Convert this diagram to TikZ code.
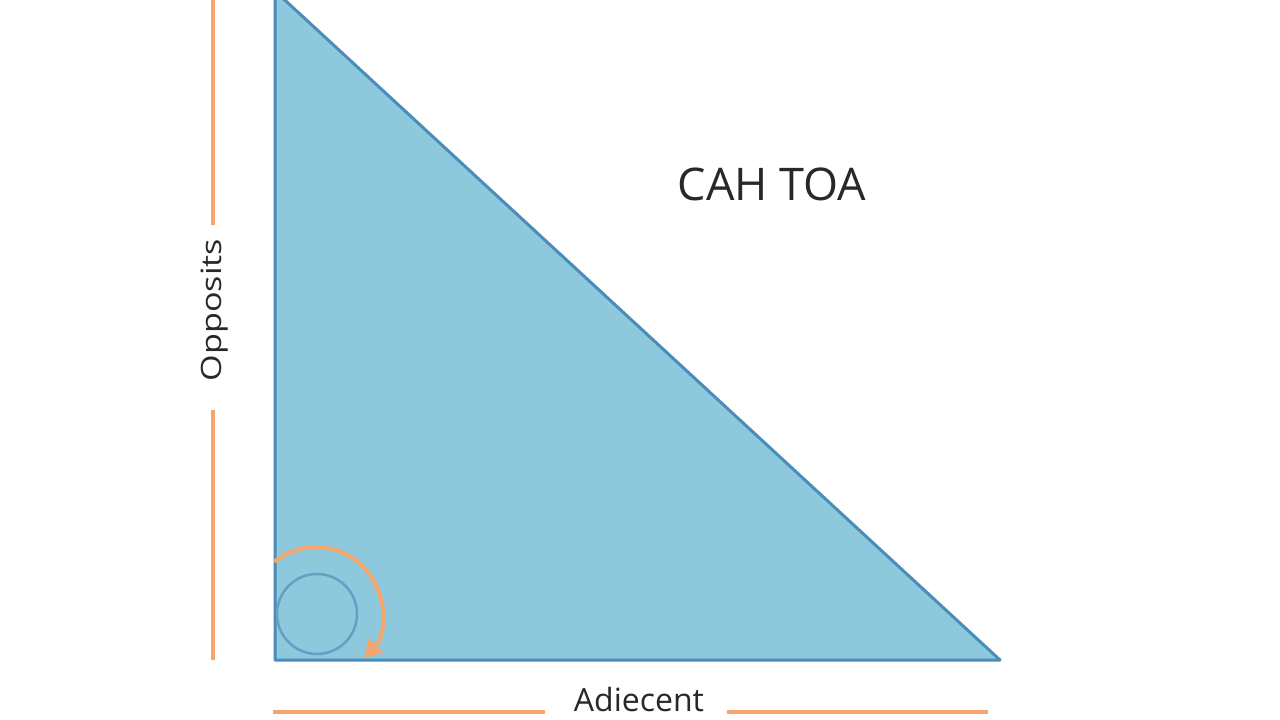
\documentclass[tikz,border=0pt]{standalone}
\usepackage{fontspec}
\setmainfont{Open Sans}
\usetikzlibrary{arrows.meta}
\definecolor{trifill}{RGB}{142,200,220}
\definecolor{triedge}{RGB}{74,140,186}
\definecolor{circedge}{RGB}{100,160,195}
\definecolor{orng}{RGB}{245,165,110}
\definecolor{txt}{RGB}{40,40,40}
\tikzset{
  tri/.style={fill=trifill, draw=triedge, line width=3, line join=round},
  orngline/.style={draw=orng, line width=4},
  lbl/.style={text=txt, inner sep=0pt},
}
\begin{document}
\begin{tikzpicture}[x=1pt,y=-1pt]
\useasboundingbox (0,0) rectangle (1280,720);
\fill[white] (0,0) rectangle (1280,720);
\clip (0,0) rectangle (1280,720);
% triangle
\coordinate (A) at (275,-9);
\coordinate (B) at (275,660);
\coordinate (C) at (1000,660);
\draw[tri] (A) -- (B) -- (C) -- cycle;
% right-angle circle
\coordinate (ang) at (317,614);
\draw[draw=circedge, line width=2.5] (ang) circle[radius=40];
% orange arrow arc
\coordinate (O) at (316,613);
\draw[orng, line width=4, -{Triangle[length=17pt,width=19pt]}]
  ([shift={(-129:66)}]O) arc[start angle=-129, end angle=43, radius=66];
% title
\node[lbl, font=\fontsize{45}{54}\selectfont] (title) at (772,184) {CAH TOA};
% opposite side
\coordinate (o1) at (213,0);
\coordinate (o2) at (213,225);
\coordinate (o3) at (213,410);
\coordinate (o4) at (213,660);
\draw[orngline] (o1) -- (o2);
\draw[orngline] (o3) -- (o4);
\node[lbl, rotate=90, anchor=base, font=\fontsize{28}{34}\selectfont] (opp) at (221,310) {\scalebox{1.22}[1]{Opposits}};
% adjacent side
\coordinate (a1) at (273,712);
\coordinate (a2) at (545,712);
\coordinate (a3) at (727,712);
\coordinate (a4) at (988,712);
\draw[orngline] (a1) -- (a2);
\draw[orngline] (a3) -- (a4);
\node[lbl, anchor=base, font=\fontsize{32}{40}\selectfont] (adj) at (639,711) {Adiecent};
\end{tikzpicture}
\end{document}
